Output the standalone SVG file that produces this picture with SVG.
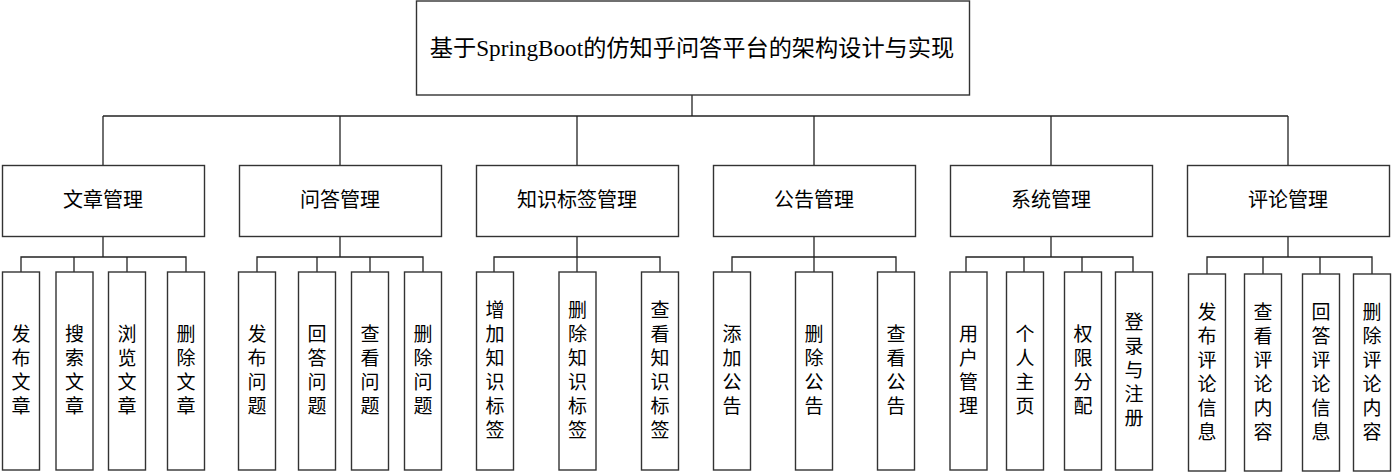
<svg xmlns="http://www.w3.org/2000/svg" width="1394" height="474" viewBox="0 0 1394 474">
<style>
rect{fill:#fff;stroke:#333;stroke-width:1.4}
.c line,.c polyline{stroke:#222;stroke-width:1.3;fill:none}
text{font-family:"Liberation Serif","Noto Sans CJK SC",serif;fill:#000;text-anchor:middle;dominant-baseline:central}
.t{font-size:23.2px}
.m{font-size:20px}
.l{font-size:19px}
</style>
<rect x="0" y="0" width="1394" height="474" style="fill:#fff;stroke:none"/>
<g class="c" id="connectors">
<line x1="692" y1="95" x2="692" y2="116"/>
<line x1="103" y1="116" x2="1288" y2="116"/>
<line x1="103" y1="116" x2="103" y2="165"/>
<line x1="340" y1="116" x2="340" y2="165"/>
<line x1="577" y1="116" x2="577" y2="165"/>
<line x1="814" y1="116" x2="814" y2="165"/>
<line x1="1051" y1="116" x2="1051" y2="165"/>
<line x1="1288" y1="116" x2="1288" y2="165"/>
<line x1="103" y1="236" x2="103" y2="257"/>
<polyline points="21,272 21,257 186,257 186,272"/>
<line x1="74" y1="257" x2="74" y2="272"/>
<line x1="127" y1="257" x2="127" y2="272"/>
<line x1="340" y1="236" x2="340" y2="257"/>
<polyline points="257,272 257,257 423,257 423,272"/>
<line x1="317" y1="257" x2="317" y2="272"/>
<line x1="370" y1="257" x2="370" y2="272"/>
<line x1="577" y1="236" x2="577" y2="272"/>
<polyline points="494,272 494,257 660,257 660,272"/>
<line x1="814" y1="236" x2="814" y2="272"/>
<polyline points="732,272 732,257 896,257 896,272"/>
<line x1="1051" y1="236" x2="1051" y2="257"/>
<polyline points="966,272 966,257 1133,257 1133,272"/>
<line x1="1024" y1="257" x2="1024" y2="272"/>
<line x1="1082" y1="257" x2="1082" y2="272"/>
<line x1="1288" y1="236" x2="1288" y2="257"/>
<polyline points="1207,274 1207,257 1372,257 1372,274"/>
<line x1="1263" y1="257" x2="1263" y2="274"/>
<line x1="1320" y1="257" x2="1320" y2="274"/>
</g>
<g id="root"><rect x="416.5" y="1" width="553" height="94"/><text class="t" x="692" y="48">基于SpringBoot的仿知乎问答平台的架构设计与实现</text></g>
<g id="n1"><rect x="2.5" y="165.5" width="202" height="71"/><text class="m" x="103" y="200">文章管理</text></g>
<g id="n2"><rect x="239.5" y="165.5" width="202" height="71"/><text class="m" x="340" y="200">问答管理</text></g>
<g id="n3"><rect x="476.5" y="165.5" width="202" height="71"/><text class="m" x="577" y="200">知识标签管理</text></g>
<g id="n4"><rect x="713.5" y="165.5" width="202" height="71"/><text class="m" x="814" y="200">公告管理</text></g>
<g id="n5"><rect x="950.5" y="165.5" width="202" height="71"/><text class="m" x="1051" y="200">系统管理</text></g>
<g id="n6"><rect x="1187.5" y="165.5" width="202" height="71"/><text class="m" x="1288" y="200">评论管理</text></g>

<g id="l11"><rect x="2.5" y="272" width="37" height="198"/><text class="l"><tspan x="21" y="334">发</tspan><tspan x="21" y="358">布</tspan><tspan x="21" y="382">文</tspan><tspan x="21" y="406">章</tspan></text></g>
<g id="l12"><rect x="56" y="272" width="37" height="198"/><text class="l"><tspan x="74.5" y="334">搜</tspan><tspan x="74.5" y="358">索</tspan><tspan x="74.5" y="382">文</tspan><tspan x="74.5" y="406">章</tspan></text></g>
<g id="l13"><rect x="108.5" y="272" width="37" height="198"/><text class="l"><tspan x="127" y="334">浏</tspan><tspan x="127" y="358">览</tspan><tspan x="127" y="382">文</tspan><tspan x="127" y="406">章</tspan></text></g>
<g id="l14"><rect x="167.5" y="272" width="37" height="198"/><text class="l"><tspan x="186" y="334">删</tspan><tspan x="186" y="358">除</tspan><tspan x="186" y="382">文</tspan><tspan x="186" y="406">章</tspan></text></g>

<g id="l21"><rect x="238.5" y="272" width="37" height="198"/><text class="l"><tspan x="257" y="334">发</tspan><tspan x="257" y="358">布</tspan><tspan x="257" y="382">问</tspan><tspan x="257" y="406">题</tspan></text></g>
<g id="l22"><rect x="298.5" y="272" width="37" height="198"/><text class="l"><tspan x="317" y="334">回</tspan><tspan x="317" y="358">答</tspan><tspan x="317" y="382">问</tspan><tspan x="317" y="406">题</tspan></text></g>
<g id="l23"><rect x="351.5" y="272" width="37" height="198"/><text class="l"><tspan x="370" y="334">查</tspan><tspan x="370" y="358">看</tspan><tspan x="370" y="382">问</tspan><tspan x="370" y="406">题</tspan></text></g>
<g id="l24"><rect x="404.5" y="272" width="37" height="198"/><text class="l"><tspan x="423" y="334">删</tspan><tspan x="423" y="358">除</tspan><tspan x="423" y="382">问</tspan><tspan x="423" y="406">题</tspan></text></g>

<g id="l31"><rect x="476.5" y="272" width="37" height="198"/><text class="l"><tspan x="495" y="310">增</tspan><tspan x="495" y="334">加</tspan><tspan x="495" y="358">知</tspan><tspan x="495" y="382">识</tspan><tspan x="495" y="406">标</tspan><tspan x="495" y="430">签</tspan></text></g>
<g id="l32"><rect x="559" y="272" width="37" height="198"/><text class="l"><tspan x="577.5" y="310">删</tspan><tspan x="577.5" y="334">除</tspan><tspan x="577.5" y="358">知</tspan><tspan x="577.5" y="382">识</tspan><tspan x="577.5" y="406">标</tspan><tspan x="577.5" y="430">签</tspan></text></g>
<g id="l33"><rect x="641.5" y="272" width="37" height="198"/><text class="l"><tspan x="660" y="310">查</tspan><tspan x="660" y="334">看</tspan><tspan x="660" y="358">知</tspan><tspan x="660" y="382">识</tspan><tspan x="660" y="406">标</tspan><tspan x="660" y="430">签</tspan></text></g>

<g id="l41"><rect x="713.5" y="272" width="37" height="198"/><text class="l"><tspan x="732" y="334">添</tspan><tspan x="732" y="358">加</tspan><tspan x="732" y="382">公</tspan><tspan x="732" y="406">告</tspan></text></g>
<g id="l42"><rect x="795.5" y="272" width="37" height="198"/><text class="l"><tspan x="814" y="334">删</tspan><tspan x="814" y="358">除</tspan><tspan x="814" y="382">公</tspan><tspan x="814" y="406">告</tspan></text></g>
<g id="l43"><rect x="877.5" y="272" width="37" height="198"/><text class="l"><tspan x="896" y="334">查</tspan><tspan x="896" y="358">看</tspan><tspan x="896" y="382">公</tspan><tspan x="896" y="406">告</tspan></text></g>

<g id="l51"><rect x="950" y="272" width="37" height="198"/><text class="l"><tspan x="968.5" y="334">用</tspan><tspan x="968.5" y="358">户</tspan><tspan x="968.5" y="382">管</tspan><tspan x="968.5" y="406">理</tspan></text></g>
<g id="l52"><rect x="1006.5" y="272" width="37" height="198"/><text class="l"><tspan x="1025" y="334">个</tspan><tspan x="1025" y="358">人</tspan><tspan x="1025" y="382">主</tspan><tspan x="1025" y="406">页</tspan></text></g>
<g id="l53"><rect x="1064.5" y="272" width="37" height="198"/><text class="l"><tspan x="1083" y="334">权</tspan><tspan x="1083" y="358">限</tspan><tspan x="1083" y="382">分</tspan><tspan x="1083" y="406">配</tspan></text></g>
<g id="l54"><rect x="1115.5" y="272" width="37" height="198"/><text class="l"><tspan x="1134" y="322">登</tspan><tspan x="1134" y="346">录</tspan><tspan x="1134" y="370">与</tspan><tspan x="1134" y="394">注</tspan><tspan x="1134" y="418">册</tspan></text></g>

<g id="l61"><rect x="1188.5" y="274" width="37" height="197"/><text class="l"><tspan x="1207" y="312">发</tspan><tspan x="1207" y="336">布</tspan><tspan x="1207" y="360">评</tspan><tspan x="1207" y="384">论</tspan><tspan x="1207" y="408">信</tspan><tspan x="1207" y="432">息</tspan></text></g>
<g id="l62"><rect x="1244.5" y="274" width="37" height="197"/><text class="l"><tspan x="1263" y="312">查</tspan><tspan x="1263" y="336">看</tspan><tspan x="1263" y="360">评</tspan><tspan x="1263" y="384">论</tspan><tspan x="1263" y="408">内</tspan><tspan x="1263" y="432">容</tspan></text></g>
<g id="l63"><rect x="1302.5" y="274" width="37" height="197"/><text class="l"><tspan x="1321" y="312">回</tspan><tspan x="1321" y="336">答</tspan><tspan x="1321" y="360">评</tspan><tspan x="1321" y="384">论</tspan><tspan x="1321" y="408">信</tspan><tspan x="1321" y="432">息</tspan></text></g>
<g id="l64"><rect x="1353.5" y="274" width="37" height="197"/><text class="l"><tspan x="1372" y="312">删</tspan><tspan x="1372" y="336">除</tspan><tspan x="1372" y="360">评</tspan><tspan x="1372" y="384">论</tspan><tspan x="1372" y="408">内</tspan><tspan x="1372" y="432">容</tspan></text></g>
</svg>
